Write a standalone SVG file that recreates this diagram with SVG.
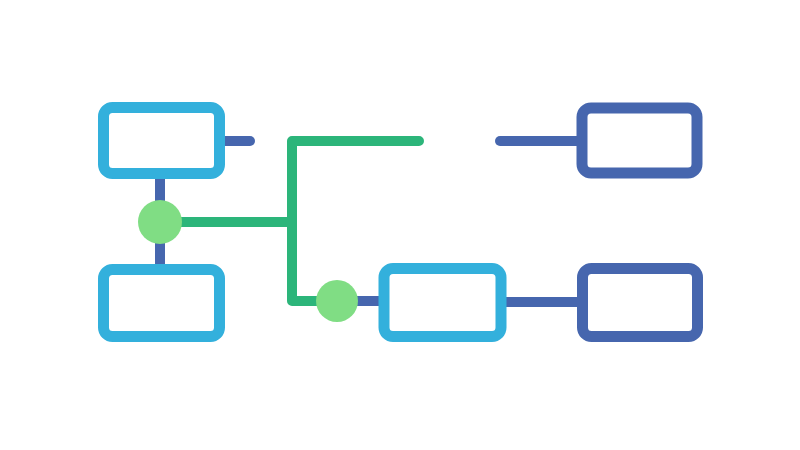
<svg xmlns="http://www.w3.org/2000/svg" width="800" height="450" viewBox="0 0 800 450">
<style>
.box{fill:#fff;stroke-width:11;stroke-linejoin:round}
.lb{stroke:#33b0dc}
.db{stroke:#4666ae}
.ln{fill:none;stroke-width:10;stroke-linecap:round;stroke-linejoin:round}
.dl{stroke:#4666ae}
.gl{stroke:#2cb57a}
.dot{fill:#80dd84}
</style>
<rect width="800" height="450" fill="#fff"/>
<g id="connectors">
<path class="ln dl" d="M215 141 H250"/>
<path class="ln dl" d="M500 141 H585"/>
<path class="ln dl" d="M160 172 V270" stroke-linecap="butt"/>
<path class="ln dl" d="M337 301 H390" stroke-linecap="butt"/>
<path class="ln dl" d="M500 302 H585" stroke-linecap="butt"/>
<path class="ln gl" d="M160 222 H292" stroke-linecap="butt"/>
<path class="ln gl" d="M419 141 H292 V301 H337"/>
</g>
<g id="box1"><rect class="box lb" x="103.5" y="107.5" width="116" height="66" rx="9"/></g>
<g id="box2"><rect class="box db" x="582" y="108" width="115" height="65" rx="9"/></g>
<g id="box3"><rect class="box lb" x="103.5" y="269.5" width="116" height="67" rx="9"/></g>
<g id="box4"><rect class="box lb" x="384" y="268.5" width="117" height="68" rx="9"/></g>
<g id="box5"><rect class="box db" x="582.5" y="268.5" width="115" height="68" rx="9"/></g>
<g id="dot1"><circle class="dot" cx="160" cy="222" r="22"/></g>
<g id="dot2"><circle class="dot" cx="337" cy="301" r="21"/></g>
</svg>
